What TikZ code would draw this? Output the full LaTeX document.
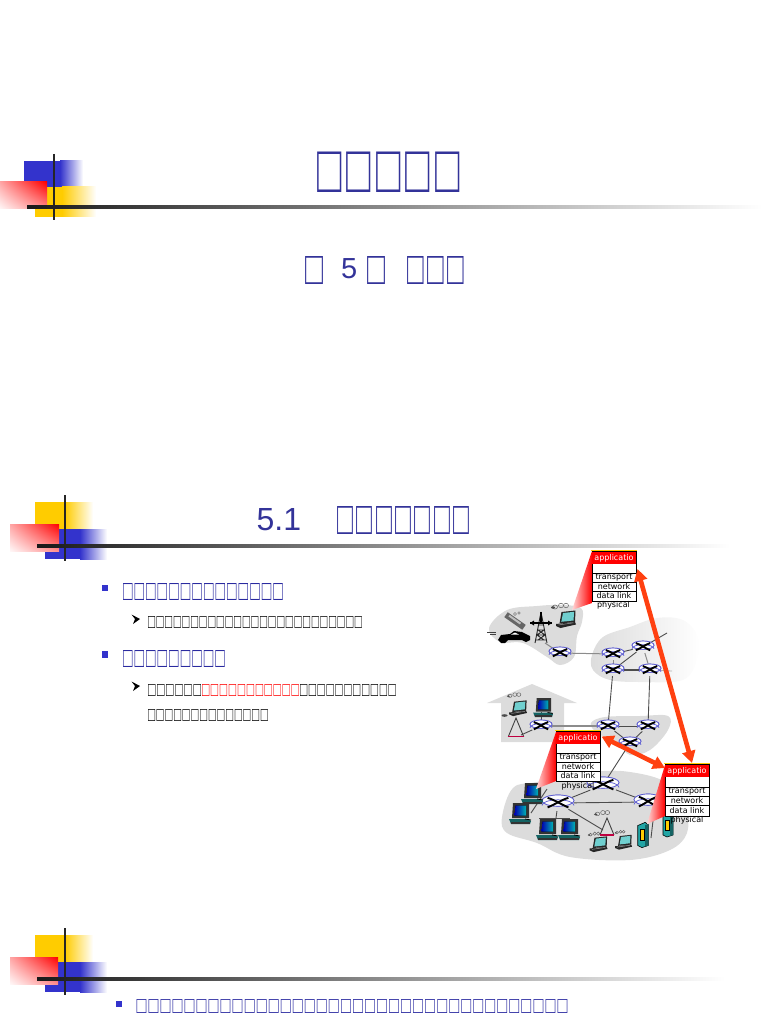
\documentclass[tikz,border=0pt]{standalone}
\usepackage{fontspec}
\usepackage{graphicx}
\usetikzlibrary{arrows.meta,shapes.geometric,shadings}
\setmainfont{Liberation Sans}
\newfontfamily\djf{DejaVu Sans}
\newfontfamily\tofu[LetterSpace=13]{Liberation Sans}
\definecolor{ttl}{HTML}{333399}
\definecolor{bul}{HTML}{2A2AA0}
\definecolor{logoblue}{HTML}{3333CC}
\definecolor{logoyel}{HTML}{FFCC00}
\definecolor{cloud}{HTML}{DCDCDC}
\definecolor{rblue}{HTML}{5A5AD0}
\definecolor{arrowred}{HTML}{FF4010}
\definecolor{teal1}{HTML}{22A5A5}
\definecolor{scr}{HTML}{70CFCF}
\pgfdeclarelayer{bg}\pgfdeclarelayer{links}
\pgfsetlayers{bg,links,main}
\newcommand\tofuline[7]{\node[tofunode,text=#1] (#2) at (#3,#4) {\resizebox*{#5pt}{#6pt}{\fontsize{20}{20}\selectfont\tofu #7}};}
\newcommand\fadebox[6]{\fill[#1] (#2,#5) rectangle (#3,#6);\shade[left color=#1,right color=white] (#3,#5) rectangle (#4,#6);}
\newcommand\redbox[4]{\shade[shading=bilinear interpolation,upper right=red,upper left=red!35,lower right=red!45,lower left=red!3] (#1,#2) rectangle (#3,#4);}
\newcommand\crossrule[7]{\draw[black!85,line width=2.2pt] (#1,#2) -- (#1,#3);\shade[left color=black!90,right color=white] (#4,#5-#6/2) rectangle (#7,#5+#6/2);}
\newcommand\router[5]{%
 \node[routernode,minimum width=#4*2pt,minimum height=#5*2pt] (#1) at (#2,#3) {};
 \begin{scope}[shift={(#2,#3)}]
  \filldraw[rblue,fill=white,fill opacity=.75,line width=.7pt] (-#4,-#5*.3) arc (180:360:#4 and #5*.7) -- (#4,-#5*.3) arc (0:180:#4 and #5*.7) -- cycle;
  \filldraw[rblue,fill=white,fill opacity=.75,line width=.7pt] (0,-#5*.3) ellipse (#4 and #5*.7);
  \draw[rblue,line width=.7pt] (-#4,#5*.3) arc (180:0:#4 and -#5*.7);
  \draw[black,line width=1.9pt] (-#4*.65,-#5*.65) .. controls (-#4*.1,-#5*.3) and (#4*.1,#5*.1) .. (#4*.65,#5*.55);
  \draw[black,line width=1.9pt] (-#4*.65,#5*.55) .. controls (-#4*.1,#5*.1) and (#4*.1,-#5*.3) .. (#4*.65,-#5*.65);
 \end{scope}}
\newcommand\laptop[3]{\begin{scope}[shift={(#1,#2)},scale=#3]
 \fill[black!85] (-5,-7)--(9,-8.5)--(8.5,3)--(-7,4.5)--cycle;
 \fill[scr] (-3.5,-6)--(7.6,-7.2)--(7,1.5)--(-5.2,2.8)--cycle;
 \fill[black!85] (-10.5,5)--(8.5,3)--(9.5,5.5)--(-6,9)--(-10.5,7)--cycle;
 \draw[black!40,line width=.5pt] (-8,6)--(7,3.8);
 \end{scope}}
\newcommand\pc[3]{\begin{scope}[shift={(#1,#2)},scale=#3]
 \fill[black!80] (-7,-11)--(9,-11)--(9,4)--(-8,4)--cycle;
 \fill[left color=blue!70!black,right color=cyan!70!black] (-4.5,-8.5)--(6,-8.5)--(6,1.5)--(-5.5,1.5)--cycle;
 \fill[teal1!60!black] (-11,5)--(9,5)--(11,7)--(10,10)--(-9,10)--cycle;
 \fill[black!80] (-9,8)--(10,8)--(10,10)--(-9,10)--cycle;
 \draw[black,line width=.8pt] (5,5)--(11,6);
 \end{scope}}
\newcommand\wifi[3]{\begin{scope}[shift={(#1,#2)},scale=#3]
 \draw[black!60,line width=.5pt] (-5,1) ellipse (2.5 and 2);
 \draw[black!60,line width=.5pt] (1,-.5) ellipse (2.5 and 2.3);
 \draw[black!60,line width=.5pt] (6,-.5) ellipse (2.5 and 2.3);
 \fill[black!70] (-7,1.5) ellipse (2 and 1.2);
 \end{scope}}
\newcommand\antenna[3]{\begin{scope}[shift={(#1,#2)},scale=#3]
 \draw[black!75,line width=.9pt] (-7,17)--(0,0)--(7,17);
 \draw[purple,line width=1.3pt] (-7,17)--(7,17);
 \end{scope}}
\newcommand\server[3]{\begin{scope}[shift={(#1,#2)},scale=#3]
 \filldraw[draw=black,fill=teal1,line width=.6pt] (-5,-9)--(2,-12)--(5,-10)--(5,10)--(-1,12)--(-5,10)--cycle;
 \fill[teal1!60!black] (2,-9.5)--(5,-10)--(5,10)--(2,11)--cycle;
 \filldraw[draw=black,fill=logoyel,line width=.6pt] (-3,-5) rectangle (1,5);
 \end{scope}}
\newcommand\netstack[7]{%
 \begin{scope}[shift={(#2,#3)},yscale=#5]
  \draw[logoyel,line width=1pt] (-.7,-1.2) -- (#4+.7,-1.2) -- (#4+.7,49.5);
  \fill[white] (0,0) rectangle (#4,49);
  \fill[red] (0,0) rectangle (#4,11.5);
  \draw[black,line width=.8pt] (#4,-1)--(#4,49)--(0,49)--(0,11.5);
  \draw[black,line width=.6pt] (0,21)--(#4,21) (0,30)--(#4,30) (0,39)--(#4,39);
  \draw[black,line width=.6pt] (#4,-1)--(0,-1);
 \end{scope}
 \node[stacknode,minimum width=#4*1pt,minimum height=49pt] (#1) at (#2+#4/2,#3+24.5) {};
 \node[stacktext,text=white] (#1a) at (#2+#4/2,#3+5.8) {applicatio};
 \node[stacktext] (#1t) at (#2+#4/2,#3+25.5*#5) {transport};
 \node[stacktext] (#1n) at (#2+#4/2,#3+34.5*#5) {network};
 \node[stacktext] (#1d) at (#2+#4/2,#3+44*#5) {data link};
 \node[stacktext] (#1p) at (#6,#7) {physical};}
\newcommand\stackwedge[6]{\shade[left color=red!15,right color=red] (#1,#2) -- (#3,#4) -- (#5,#6) -- cycle;}
\tikzset{
 tofunode/.style={anchor=south west,inner sep=0pt,outer sep=0pt},
 plainnode/.style={anchor=base west,inner sep=0pt,font=\fontsize{29}{30}\selectfont,text=ttl},
 routernode/.style={ellipse,inner sep=0pt,draw=none},
 stacknode/.style={rectangle,inner sep=0pt,draw=none},
 stacktext/.style={inner sep=0pt,font=\fontsize{8}{9}\selectfont\djf,text=black},
 glink/.style={black!45,line width=1pt},
 dlink/.style={black!70,line width=.9pt},
 bignarrow/.style={arrowred,line width=4.6pt,{Triangle[length=12pt,width=13pt]}-{Triangle[length=12pt,width=13pt]}}
}
\begin{document}
\begin{tikzpicture}[x=1pt,y=-1pt]
\useasboundingbox (0,0) rectangle (768,1024);
% ---------- logo 1
\fadebox{logoblue}{24}{60}{83}{161}{189}
\fadebox{logoyel}{35}{62}{96}{187}{217}
\redbox{0}{182}{47}{209}
\crossrule{54}{154}{220}{27}{207}{3.6}{762}
% ---------- logo 2
\fadebox{logoyel}{35}{65}{93}{502}{530}
\fadebox{logoblue}{45}{80}{107}{529}{559}
\redbox{10}{524}{59}{551}
\crossrule{65}{495}{561}{37}{546}{2.2}{730}
% ---------- logo 3
\fadebox{logoyel}{35}{65}{93}{935}{962}
\fadebox{logoblue}{45}{80}{107}{962}{992}
\redbox{10}{957}{58}{984}
\crossrule{65}{928}{995}{37}{979}{2.2}{725}
% ---------- title
\tofuline{ttl}{title}{317}{192.4}{143}{40.5}{□□□□□}
\tofuline{ttl}{subA}{305.5}{284}{18}{28}{□}
\node[plainnode] (five) at (341,278) {5};
\tofuline{ttl}{subB}{367.5}{284}{18}{28}{□}
\tofuline{ttl}{subC}{407}{284}{57}{28}{□□□}
% ---------- section
\node[plainnode,font=\fontsize{32}{34}\selectfont] (sec) at (256.5,530) {5.1};
\tofuline{ttl}{secT}{337.5}{534.5}{132}{28}{□□□□□□□}
% ---------- bullets
\fill[logoblue] (102,584.5) rectangle (108,591);
\tofuline{bul}{b1}{123}{600.5}{160}{17}{□□□□□□□□□□□□□□}
\tofuline{black}{s1}{148}{628}{214}{12}{□□□□□□□□□□□□□□□□□□□□□□□□□}
\fill[logoblue] (102,651) rectangle (108,657.5);
\tofuline{bul}{b2}{123}{667}{102}{17}{□□□□□□□□□}
\tofuline{black}{s2a}{148}{696}{53}{12}{□□□□□□}
\tofuline{red}{s2b}{202}{696}{97}{12}{□□□□□□□□□□□}
\tofuline{black}{s2c}{300}{696}{96}{12}{□□□□□□□□□□□}
\tofuline{black}{s3}{148}{721.5}{120}{12}{□□□□□□□□□□□□□□}
\fill[logoblue] (116,1001) rectangle (122,1006.5);
\tofuline{bul}{b3}{136.5}{1013.5}{431}{14}{□□□□□□□□□□□□□□□□□□□□□□□□□□□□□□□□□□□□}
% arrow-head bullets
\fill[black] (131.5,614.5)--(140,619)--(133,624)--(135,619)--cycle;
\fill[black] (131.5,681.5)--(140,686)--(133,691)--(135,686)--cycle;
% ---------- clouds
\begin{pgfonlayer}{bg}
\fill[cloud] plot[smooth cycle,tension=.6] coordinates {(489,628)(507,610)(537,606)(560,605)(581,608)(582,622)(577,636)(574,657)(560,665)(547,657)(523,643)(500,642)};
\shade[left color=cloud,middle color=cloud!80,right color=white] plot[smooth cycle,tension=.6] coordinates {(592,655)(603,637)(630,627)(657,618)(683,620)(698,637)(697,660)(683,680)(643,682)(610,680)(593,670)};
\fill[cloud] (532,684)--(577,703)--(564,703)--(564,742)--(501,742)--(501,703)--(487,703)--cycle;
\fill[cloud] plot[smooth cycle,tension=.6] coordinates {(591,723)(605,717)(640,716)(668,716)(668,730)(650,750)(630,755)(617,743)(597,733)};
\fill[cloud] plot[smooth cycle,tension=.6] coordinates {(502,817)(513,788)(537,782)(593,772)(630,772)(667,783)(685,810)(687,833)(670,850)(630,860)(570,857)(537,843)(507,833)};
\end{pgfonlayer}
% ---------- routers
\router{ra}{560}{653}{11}{6}
\router{rb}{613}{654}{11}{6}
\router{rc}{643}{647}{11}{6}
\router{rd}{613}{670}{11}{6}
\router{re}{650}{670}{11}{6}
\router{rf}{608}{726}{11}{6}
\router{rg}{648}{726}{11}{6}
\router{rh}{630}{743}{11}{6}
\router{ri}{541}{726}{11}{6}
\router{rj}{558}{803}{16}{8}
\router{rk}{603}{785}{16}{8}
\router{rl}{648}{802}{14}{8}
\coordinate (stubA) at (667,633);
\coordinate (stubB) at (672,671);
\coordinate (towerW) at (545,643);
\coordinate (antH) at (521,735);
\coordinate (pcH) at (541,712);
\coordinate (antB) at (603,830);
\coordinate (busL) at (539,818);
\coordinate (busR) at (570,818);
\coordinate (busT) at (556,818);
\coordinate (hubA) at (531,813);
\coordinate (hubB) at (547,789);
\coordinate (srvA) at (654,812);
\coordinate (srvB) at (651,838);
\begin{pgfonlayer}{links}
\draw[glink] (ra) -- (rb);
\draw[glink] (rb) -- (rd);
\draw[dlink] (rb) -- (rc);
\draw[dlink] (rd) -- (rc);
\draw[glink] (rc) -- (re);
\draw[dlink,line width=1.1pt] (rd) -- (re);
\draw[dlink] (rc) -- (stubA);
\draw[black!30,line width=.8pt] (re) -- (stubB);
\draw[dlink] (rd) -- (rf);
\draw[dlink] (re) -- (rg);
\draw[dlink] (rf) -- (rg);
\draw[dlink] (rf) -- (rh);
\draw[dlink] (rg) -- (rh);
\draw[glink,line width=1.3pt] (ri) -- (rf);
\draw[dlink] (rh) -- (rk);
\draw[dlink] (rk) -- (rj);
\draw[dlink] (rj) -- (rl);
\draw[dlink] (rk) -- (rl);
\draw[glink] (towerW) -- (ra);
\draw[dlink] (antH) -- (ri);
\draw[dlink] (pcH) -- (ri);
\draw[dlink] (rj) -- (antB);
\draw[dlink] (busL) -- (busR);
\draw[dlink] (rj) -- (busT);
\draw[dlink] (hubA) -- (hubB);
\draw[dlink] (srvA) -- (srvB);
\end{pgfonlayer}
% ---------- wireless group
\draw[black!75,line width=.9pt] (487,632.5)--(496,632.5);
\draw[black!75,line width=.9pt] (490,634.5)--(496,634.5);
\fill[black] (498,640)--(501,635)--(510,634)--(514,631)--(522,632)--(530,636)--(530,640)--(526,642)--(522,640)--(508,640)--(505,643)--(501,643)--cycle;
\fill[white] (511,634.5)--(515,632.5)--(519,634.5)--cycle;
\begin{scope}[shift={(515,621)},rotate=-35]
\fill[black!60] (-11,-3) rectangle (11,3);
\fill[black!25] (-8,-2) rectangle (6,0);
\end{scope}
\draw[black!50,line width=.5pt] (515,614) circle (1.5) (519,613) circle (1.2);
% tower
\draw[black!85,line width=.9pt] (541,612)--(535,643) (541,612)--(547,643) (537,635)--(545,635) (538,630)--(544,630) (539,625)--(543,625) (536,640)--(546,640) (537,635)--(544,640) (545,635)--(538,640) (538,630)--(545,635) (544,630)--(537,635);
\draw[black,line width=1.4pt] (541,612)--(541,622);
\draw[black,line width=1.5pt] (530,623)--(552,623);
\fill[black] (530,623)--(534,620.5)--(534,625.5)--cycle (552,623)--(548,620.5)--(548,625.5)--cycle;
\laptop{566.5}{619}{1}
\wifi{560}{606}{1}
% ---------- house
\laptop{518.5}{708}{.9}
\wifi{514}{695}{.8}
\pc{543}{708}{.9}
\fill[black!70] (504.5,715.5) ellipse (3 and 1.3);
\antenna{516}{718}{1.1}
% ---------- bottom group
\pc{532}{794}{1}
\pc{520}{814}{1}
\pc{547}{830}{1}
\pc{569}{830}{1}
\antenna{607}{818}{1}
\wifi{602}{813}{.9}
\laptop{599}{844}{.9}
\laptop{624}{842}{.85}
\wifi{594}{834}{.7}
\wifi{620}{832}{.6}
\server{668}{825}{1}
\server{643}{835}{1.05}
% ---------- stacks
\netstack{st1}{592}{552}{44}{1}{613.5}{605.5}
\netstack{st2}{556}{732}{44}{1}{578}{786}
\netstack{st3}{665}{765}{44}{1.04}{687}{820}
\stackwedge{592}{551}{592}{603}{572}{610}
\stackwedge{556}{732}{556}{781}{536}{789}
\stackwedge{665}{765}{665}{816}{647}{824}
% ---------- arrows
\coordinate (aA) at (637.5,569);
\coordinate (aB) at (692,763);
\coordinate (aC) at (601.5,736.5);
\coordinate (aD) at (665,768);
\draw[bignarrow] (aA) -- (aB);
\draw[bignarrow] (aC) -- (aD);
\end{tikzpicture}
\end{document}
